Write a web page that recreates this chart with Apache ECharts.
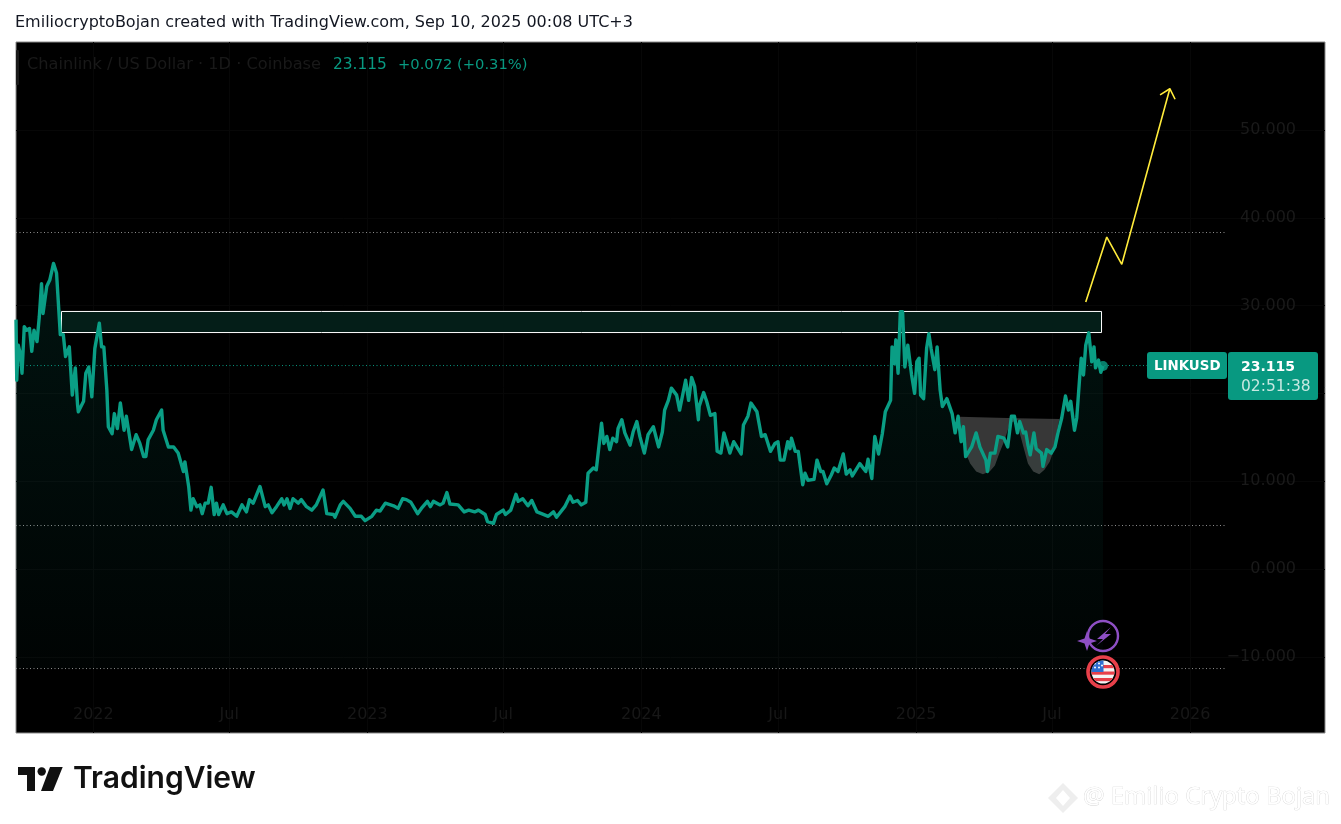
<!DOCTYPE html>
<html><head><meta charset="utf-8">
<style>html,body{margin:0;padding:0;background:#fff}#c{width:1341px;height:824px}</style>
<script src="https://cdn.jsdelivr.net/npm/echarts@6/dist/echarts.min.js"></script>
</head><body><div id="c"></div>
<script>
// x values are days since 2021-09-20
const days = [0,1,3,6,8,11,14,18,21,24,28,31,34,36,41,45,50,54,57,59,63,66,71,75,79,82,83,90,93,97,101,105,111,114,117,121,123,128,131,135,139,144,147,154,160,165,170,173,176,183,187,194,196,203,210,216,223,225,230,233,236,241,245,248,252,256,260,264,267,270,276,281,287,294,301,307,311,316,325,332,336,341,347,354,357,361,365,369,376,380,387,394,400,409,414,423,425,432,436,445,452,460,465,474,480,485,492,503,509,515,520,526,535,540,548,552,556,565,569,574,578,589,597,603,611,616,625,628,636,640,649,652,659,666,669,675,682,687,694,700,709,716,720,731,738,742,748,753,759,762,769,773,780,783,787,791,795,800,802,807,811,818,822,827,831,837,842,849,856,861,864,869,873,880,884,892,896,900,904,909,910,916,920,925,931,934,939,943,951,956,966,969,975,979,987,993,998,1005,1011,1015,1018,1023,1028,1031,1033,1038,1042,1048,1051,1055,1063,1067,1072,1075,1080,1086,1090,1095,1102,1106,1111,1114,1124,1132,1135,1140,1144,1149,1154,1158,1165,1167,1170,1172,1175,1178,1181,1184,1188,1193,1197,1200,1203,1205,1209,1213,1216,1219,1224,1227,1231,1234,1240,1247,1251,1255,1259,1262,1265,1273,1279,1284,1292,1294,1298,1304,1308,1316,1321,1326,1330,1334,1337,1342,1345,1348,1351,1356,1359,1366,1368,1373,1379,1384,1388,1393,1398,1402,1405,1410,1413,1417,1419,1422,1425,1429,1433,1436,1438,1442,1445,1448];
const closes = [28.4,21.5,25.5,24.4,22.3,27.6,27.2,27.4,24.8,27.2,25.9,28.7,32.5,29.1,32.2,32.9,34.8,33.7,29.5,26.7,26.7,24.2,25.3,19.8,22.9,18.7,17.9,19.1,22.3,23.0,19.6,25.1,28.0,25.3,25.3,20.4,16.2,15.4,17.7,16.0,18.9,15.8,17.4,13.6,15.3,14.3,12.8,12.8,14.7,15.8,17.0,18.1,15.8,13.9,13.9,13.2,11.1,12.2,9.4,6.7,8.0,7.1,7.3,6.3,7.5,7.5,9.3,6.2,7.5,6.2,7.3,6.3,6.5,6.0,7.3,6.5,7.9,7.5,9.4,7.1,7.3,6.4,7.1,8.0,7.3,8.0,6.9,8.0,7.5,7.9,7.1,6.7,7.3,9.0,6.3,6.2,5.9,7.3,7.7,6.9,6.0,6.0,5.5,6.0,6.7,6.6,7.5,7.2,6.9,8.0,7.9,7.6,6.3,6.9,7.7,7.1,7.7,7.3,7.5,8.7,7.4,7.3,6.5,6.7,6.5,6.7,6.2,5.4,5.2,6.2,6.7,6.2,6.7,8.5,7.7,8.0,7.2,7.8,6.5,6.3,6.0,6.5,5.9,7.1,8.3,7.6,7.8,7.3,7.6,10.9,11.5,11.3,16.6,14.3,15.1,13.6,14.9,14.5,16.0,17.0,15.5,14.1,15.6,16.8,15.1,13.2,15.3,16.2,13.9,15.6,18.1,19.2,20.6,19.8,18.1,21.5,19.2,21.8,20.8,17.0,18.5,20.1,19.1,17.5,17.7,13.4,13.2,15.5,13.2,14.5,13.1,16.4,17.4,18.9,17.9,15.1,15.3,13.4,14.3,14.5,12.4,12.4,14.5,13.7,14.9,13.4,13.4,9.6,10.9,10.1,10.2,12.4,11.1,11.1,9.7,10.7,11.5,11.1,13.1,10.8,11.3,10.6,12.0,11.1,12.5,10.3,15.1,13.1,15.4,17.9,19.2,25.3,23.4,26.1,22.3,29.3,29.3,23.0,25.5,22.1,20.0,23.6,24.0,19.8,19.4,25.1,26.8,25.1,22.7,25.3,20.4,18.5,19.4,17.7,15.5,17.4,14.5,16.2,12.8,13.9,15.5,13.9,12.4,11.1,13.2,13.2,15.1,14.9,13.9,17.4,17.4,15.5,16.8,15.5,15.6,14.1,13.0,15.5,13.7,13.2,11.7,13.6,13.2,13.9,15.5,17.2,19.7,18.1,19.1,15.8,17.2,21.9,24.0,22.1,25.5,26.9,23.6,25.3,22.9,23.8,22.4,23.115];

const xTickDays = [103,284,468,649,833,1015,1199,1380,1564];
const xTickLabels = ['2022','Jul','2023','Jul','2024','Jul','2025','Jul','2026'];
const yTicks = [-10,0,10,20,30,40,50];
const yTickLabels = ['\u221210.000','0.000','10.000','20.000','30.000','40.000','50.000'];

const zoneDays = [60.6,1446,1446,60.6];
const zoneVals = [29.33,29.33,26.93,26.93];
const patternDays = [1257,1333,1390,1386,1384,1377,1370,1363,1355,1348,1342,1337,1334,1324,1317,1310,1304,1297,1288,1279,1271,1265,1261];
const patternVals = [17.35,17.16,17.08,15.45,13.9,12.2,11.3,10.8,11.1,12.0,13.9,15.5,17.0,16.6,14.7,13.2,11.8,11.1,10.8,11.1,12.0,13.2,15.1];
const arrowDays = [1425,1453,1473,1537];
const arrowVals = [30.4,37.8,34.7,54.7];
const arrowHeadDays = [1524,1537,1544];
const arrowHeadVals = [54.0,54.7,53.5];
const hLineVals = [38.32,4.95,-11.34];
const hLineEndDay = 1610;
const priceLineVal = 23.17;
const priceLineEndDay = 1508;
const lastPrice = 23.115;

const pairs = (a, b) => a.map((d, i) => [d, b[i]]);
const TEAL = '#089981';
const FONT = '"DejaVu Sans"';

function polygonSeries(ds, vs, style, z) {
  return {
    type: 'custom', z, silent: true, clip: true,
    data: pairs(ds, vs),
    encode: {x: 0, y: 1},
    renderItem(params, api) {
      if (params.dataIndex !== 0) return;
      return {type: 'polygon', shape: {points: pairs(ds, vs).map(p => api.coord(p))}, style};
    }
  };
}
const hLine = (v, end, color) => ({
  type: 'line', z: 2, silent: true, symbol: 'none',
  data: [[0, v], [end, v]],
  lineStyle: {color, width: 1, type: [1, 2.5]}
});

const txt = (x, y, text, o) => ({type: 'text', x, y, z: 50, silent: true,
  style: Object.assign({text, fill: '#131722', font: '14px ' + FONT, textVerticalAlign: 'middle'}, o)});
const box = (x, y, width, height, fill, r) => ({type: 'rect', z: 49, silent: true, shape: {x, y, width, height, r: r || 0}, style: {fill}});
const poly = (points, fill) => ({type: 'polygon', z: 50, silent: true, shape: {points}, style: {fill}});

const flagSvg = 'data:image/svg+xml;utf8,' + encodeURIComponent(
 '<svg xmlns="http://www.w3.org/2000/svg" width="36" height="36" viewBox="0 0 36 36"><defs><clipPath id="k"><circle cx="18" cy="18" r="11.5"/></clipPath></defs>'+
 '<circle cx="18" cy="18" r="15" fill="#000" stroke="#e8404a" stroke-width="3.6"/><g clip-path="url(#k)"><rect x="5" y="5" width="26" height="26" fill="#f4f4f4"/>'+
 '<rect x="5" y="11" width="26" height="3.2" fill="#e8404a"/><rect x="5" y="17.5" width="26" height="3.2" fill="#e8404a"/><rect x="5" y="24" width="26" height="3.2" fill="#e8404a"/>'+
 '<rect x="5" y="5" width="13.5" height="13" fill="#2f6fd0"/>'+
 '<g fill="#fff"><circle cx="10" cy="9.5" r="1"/><circle cx="14" cy="9.5" r="1"/><circle cx="10" cy="13.5" r="1"/><circle cx="14" cy="13.5" r="1"/><circle cx="17" cy="11.5" r="1"/></g></g></svg>');
const boltSvg = 'data:image/svg+xml;utf8,' + encodeURIComponent(
 '<svg xmlns="http://www.w3.org/2000/svg" width="44" height="36" viewBox="0 0 44 36"><circle cx="27" cy="17" r="15" fill="none" stroke="#8e4fc4" stroke-width="2.4"/>'+
 '<path d="M35 8 L21 20 L27 20 L20 27 L35 15 L29 15 Z" fill="#8e4fc4"/><path d="M11 12 L13.5 19.5 L21 22 L13.5 24.5 L11 32 L8.5 24.5 L1 22 L8.5 19.5 Z" fill="#8e4fc4"/></svg>');

const chart = echarts.init(document.getElementById('c'), null, {renderer: 'canvas'});
chart.setOption({
  animation: false,
  backgroundColor: '#ffffff',
  grid: {left: 16, top: 42, width: 1309, height: 691, show: true, backgroundColor: '#000', borderColor: '#8a8a8a', borderWidth: 1},
  xAxis: {
    type: 'value', min: 0, max: 1743.7, scale: true,
    axisLine: {show: false}, axisTick: {show: false, customValues: xTickDays},
    splitLine: {show: true, lineStyle: {color: '#070707', width: 1}},
    axisLabel: {
      inside: true, margin: 10, color: '#171717', fontFamily: FONT, fontSize: 16,
      customValues: xTickDays,
      formatter: v => xTickLabels[xTickDays.indexOf(v)] || ''
    }
  },
  yAxis: {
    type: 'value', position: 'right', min: -18.68, max: 60.02, scale: true,
    axisLine: {show: false}, axisTick: {show: false, customValues: yTicks},
    splitLine: {show: true, lineStyle: {color: '#070707', width: 1}},
    axisLabel: {
      inside: true, margin: 29, color: '#1a1a1a', fontFamily: FONT, fontSize: 16, padding: [2, 0, 0, 0],
      customValues: yTicks,
      formatter: v => yTickLabels[yTicks.indexOf(v)] || ''
    }
  },
  series: [
    polygonSeries(zoneDays, zoneVals, {fill: '#041e18', stroke: '#ffffff', lineWidth: 1}, 1),
    hLine(hLineVals[0], hLineEndDay, '#8f8f8f'),
    hLine(hLineVals[1], hLineEndDay, '#8f8f8f'),
    hLine(hLineVals[2], hLineEndDay, '#8f8f8f'),
    hLine(priceLineVal, priceLineEndDay, TEAL),
    {
      type: 'line', z: 3, symbol: 'none', silent: true, smooth: false,
      data: pairs(days, closes),
      lineStyle: {color: 'rgba(0,0,0,0)', width: 0},
      areaStyle: {
        origin: hLineVals[2],
        color: new echarts.graphic.LinearGradient(0, 0, 0, 1, [
          {offset: 0, color: 'rgba(8,153,129,0.18)'},
          {offset: 1, color: 'rgba(8,153,129,0.035)'}
        ])
      }
    },
    polygonSeries(patternDays, patternVals, {fill: 'rgba(130,130,130,0.42)'}, 4),
    {
      type: 'line', z: 5, symbol: 'none', silent: true,
      data: pairs(days, closes),
      lineStyle: {color: '#0a9e85', width: 3.4, join: 'round'}
    },
    {
      type: 'scatter', z: 6, silent: true, symbolSize: 10,
      data: [[days[days.length - 1], lastPrice]],
      itemStyle: {color: '#0a9e85'}
    },
    {
      type: 'line', z: 7, symbol: 'none', silent: true,
      data: pairs(arrowDays, arrowVals),
      lineStyle: {color: '#ffeb3b', width: 1.6}
    },
    {
      type: 'line', z: 7, symbol: 'none', silent: true,
      data: pairs(arrowHeadDays, arrowHeadVals),
      lineStyle: {color: '#ffeb3b', width: 1.6}
    }
  ],
  graphic: [
    txt(15, 23, 'EmiliocryptoBojan created with TradingView.com, Sep 10, 2025 00:08 UTC+3', {font: '16px ' + FONT}),
    box(16, 50, 3, 35, '#1a1a1a', 1),
    txt(27, 65, 'Chainlink / US Dollar \u00b7 1D \u00b7 Coinbase', {fill: '#191919', font: '16.2px ' + FONT}),
    txt(333, 65, '23.115', {fill: TEAL, font: '15.4px ' + FONT}),
    txt(398, 65, '+0.072 (+0.31%)', {fill: TEAL, font: '14.7px ' + FONT}),
    box(1147, 352, 80, 27, TEAL, 3),
    txt(1154, 367, 'LINKUSD', {fill: '#fff', font: 'bold 13.4px ' + FONT}),
    box(1228, 352, 90, 48, TEAL, 3),
    txt(1241, 367, '23.115', {fill: '#fff', font: 'bold 14px ' + FONT}),
    txt(1241, 387, '02:51:38', {fill: '#c6e8e1', font: '15.5px ' + FONT}),
    {type: 'image', z: 50, silent: true, x: 1076, y: 619, style: {image: boltSvg, width: 44, height: 36}},
    {type: 'image', z: 50, silent: true, x: 1085, y: 654, style: {image: flagSvg, width: 36, height: 36}},
    poly([[18,767],[35,767],[35,791],[27,791],[27,775],[18,775]], '#111'),
    {type: 'circle', z: 50, silent: true, shape: {cx: 41.7, cy: 771.5, r: 4.2}, style: {fill: '#111'}},
    poly([[50,767],[62.7,767],[53,791],[41,791]], '#111'),
    txt(73, 779, 'TradingView', {fill: '#111', font: '600 30px Inter'}),
    poly([[1063,783],[1078,798],[1063,813],[1048,798]], '#eeeeee'),
    poly([[1063,790],[1070,798],[1063,806],[1056,798]], '#ffffff'),
    txt(1083, 797, '@ Emilio Crypto Bojan', {fill: '#ffffff', stroke: '#d4d4d4', lineWidth: 0.7, font: '24px "Open Sans"'})
  ]
});
</script></body></html>
